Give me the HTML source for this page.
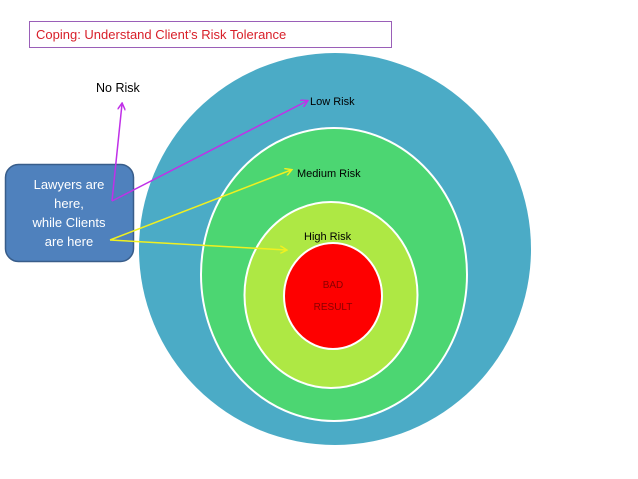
<!DOCTYPE html>
<html><head><style>
body{margin:0;background:#fff;}
svg{display:block;font-family:"Liberation Sans",sans-serif;}
</style></head><body>
<svg width="638" height="479" viewBox="0 0 638 479">
<defs>
<marker id="mp" markerWidth="8" markerHeight="8" refX="6" refY="4" orient="auto" markerUnits="userSpaceOnUse"><path d="M0,0 L7,4 L0,8" fill="none" stroke="#c030e8" stroke-width="1.5"/></marker>
<marker id="my" markerWidth="8" markerHeight="8" refX="6" refY="4" orient="auto" markerUnits="userSpaceOnUse"><path d="M0,0 L7,4 L0,8" fill="none" stroke="#f0f020" stroke-width="1.5"/></marker>
</defs>
<rect x="29.5" y="21.5" width="362" height="26" fill="#fff" stroke="#9a5fb8" stroke-width="1"/>
<text x="36" y="39" font-size="13" fill="#d8202a">Coping:  Understand Client’s Risk Tolerance</text>
<ellipse cx="335" cy="249" rx="196" ry="196" fill="#4babc6"/>
<ellipse cx="334" cy="274.5" rx="133" ry="146.5" fill="#4cd672" stroke="#fff" stroke-width="2"/>
<ellipse cx="331" cy="295" rx="86.5" ry="93" fill="#aee844" stroke="#fff" stroke-width="2"/>
<ellipse cx="333" cy="296" rx="49" ry="53" fill="#fe0000" stroke="#fff" stroke-width="2"/>
<text x="96" y="92" font-size="12.5" fill="#000">No Risk</text>
<text x="310" y="105" font-size="11" fill="#000">Low Risk</text>
<text x="297" y="177" font-size="11" fill="#000">Medium Risk</text>
<text x="304" y="240" font-size="11" fill="#000">High Risk</text>
<text x="333" y="288" font-size="10" fill="#8a0000" text-anchor="middle">BAD</text>
<text x="333" y="310" font-size="10" fill="#8a0000" text-anchor="middle">RESULT</text>
<rect x="5.5" y="164.5" width="128" height="97" rx="13" fill="#4f81bd" stroke="#385d8a" stroke-width="1.5"/>
<g font-size="13" fill="#fff" text-anchor="middle">
<text x="69" y="189">Lawyers are</text>
<text x="69" y="208">here,</text>
<text x="69" y="227">while Clients</text>
<text x="69" y="246">are here</text>
</g>
<line x1="112" y1="201" x2="122" y2="104" stroke="#c030e8" stroke-width="1.5" marker-end="url(#mp)"/>
<line x1="112" y1="201" x2="307" y2="101" stroke="#c030e8" stroke-width="1.5" marker-end="url(#mp)"/>
<line x1="110" y1="240" x2="291" y2="170" stroke="#f0f020" stroke-width="1.5" marker-end="url(#my)"/>
<line x1="110" y1="240" x2="286" y2="250" stroke="#f0f020" stroke-width="1.5" marker-end="url(#my)"/>
</svg>
</body></html>
